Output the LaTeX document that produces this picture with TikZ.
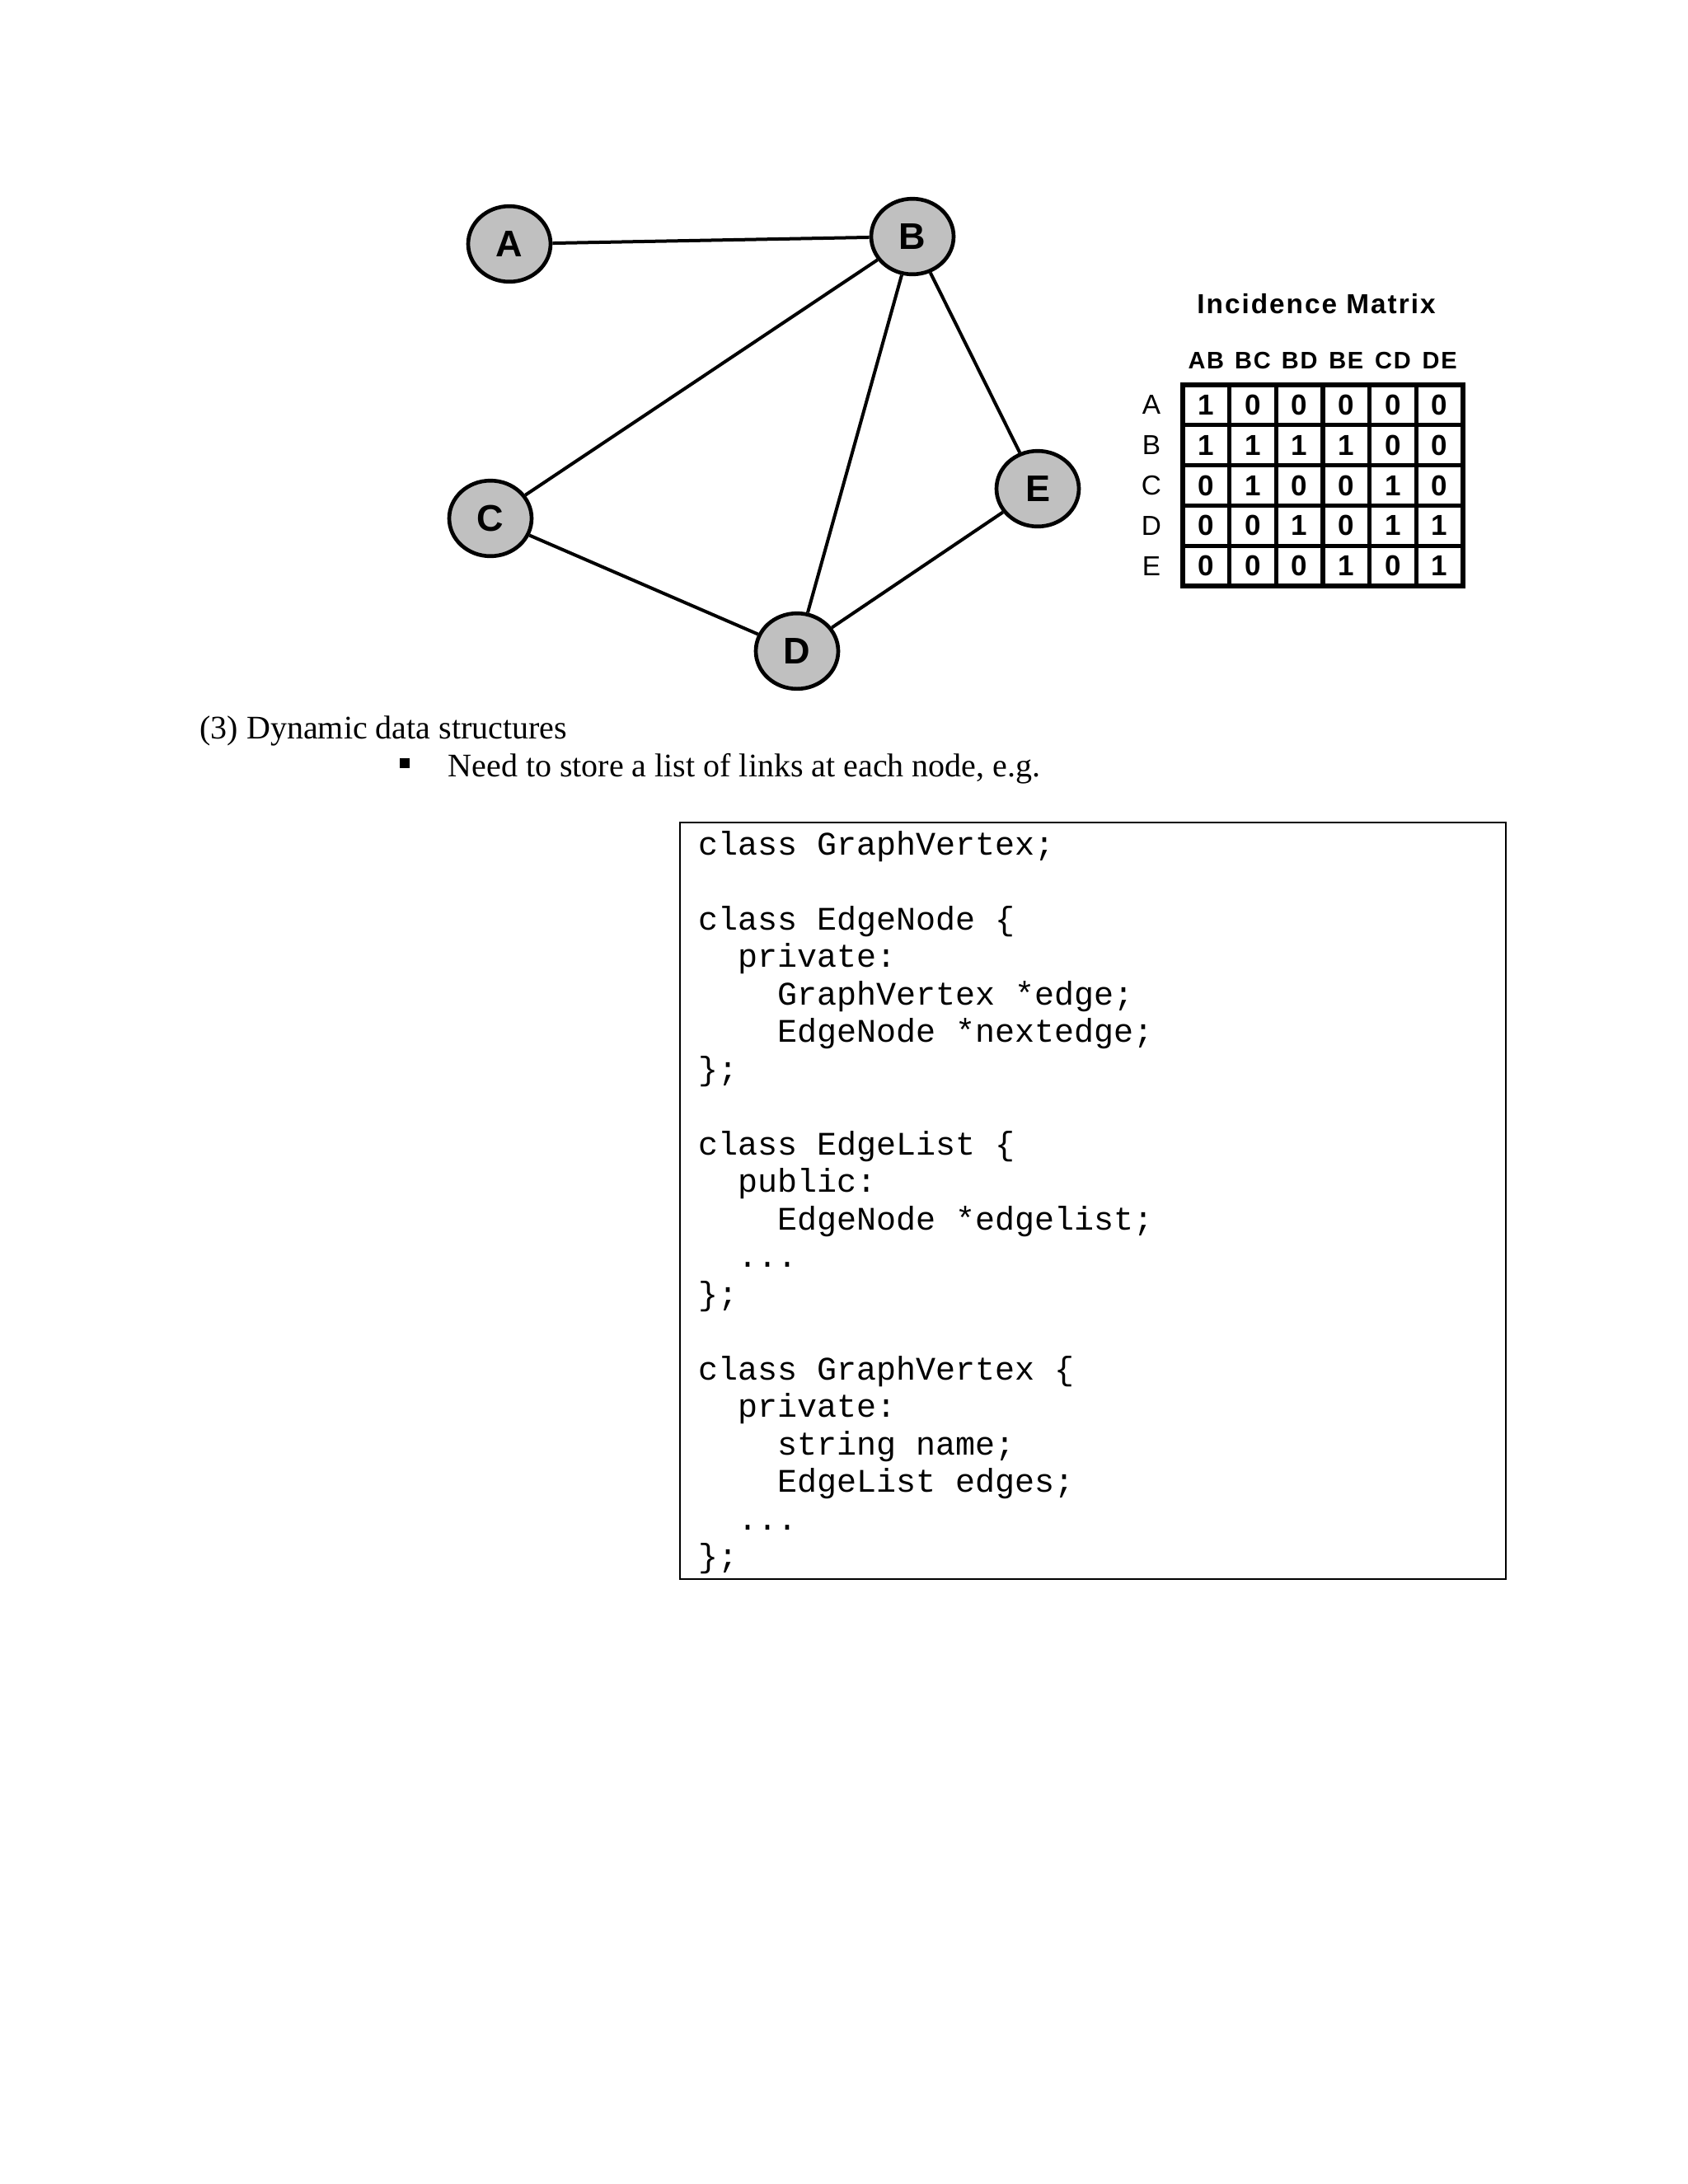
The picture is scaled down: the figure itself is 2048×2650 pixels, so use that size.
\documentclass[tikz,border=0pt]{standalone}
\usepackage{fontspec}
\setmainfont{Liberation Serif}
\setsansfont{Liberation Sans}
\setmonofont{Liberation Mono}
\newfontfamily\matfont[LetterSpace=6]{Liberation Sans}
\usetikzlibrary{shapes.geometric}
\definecolor{vgray}{RGB}{192,192,192}
\begin{document}
\begin{tikzpicture}[x=0.3pt,y=-0.3pt,
  vertex/.style={ellipse, draw=black, line width=1.4pt, fill=vgray,
    minimum width=30pt, minimum height=27.5pt, inner sep=0pt,
    font=\sffamily\bfseries\fontsize{13.5}{14}\selectfont},
  edge/.style={line width=1.2pt},
  gridline/.style={line width=1.6pt},
  cell/.style={inner sep=0pt, font=\matfont\bfseries\fontsize{10.5}{11}\selectfont},
  colhead/.style={inner sep=0pt, anchor=base, font=\matfont\bfseries\fontsize{8.7}{9}\selectfont},
  rowhead/.style={inner sep=0pt, font=\matfont\fontsize{10}{11}\selectfont},
  body/.style={inner sep=0pt, anchor=base west, font=\fontsize{12}{13.7}\selectfont},
  code/.style={inner sep=0pt, anchor=base west, font=\ttfamily\fontsize{12}{13.65}\selectfont}]
\useasboundingbox (0,0) rectangle (2048,2650);

% graph
\node[vertex] (A) at (618,296) {A};
\node[vertex] (B) at (1107,287) {B};
\node[vertex] (C) at (595,629) {C};
\node[vertex] (E) at (1259,593) {E};
\node[vertex] (D) at (967,790) {D};
\draw[edge] (A) -- (B);
\draw[edge] (B) -- (C);
\draw[edge] (B) -- (D);
\draw[edge] (B) -- (E);
\draw[edge] (C) -- (D);
\draw[edge] (D) -- (E);

% incidence matrix
\node[inner sep=0pt, anchor=base, font=\matfont\bfseries\fontsize{10}{11}\selectfont] (title) at (1597,380) {Incidence Matrix};
\foreach \h [count=\c from 0] in {AB,BC,BD,BE,CD,DE}
  \node[colhead] (h\c) at ({1435+56.67*(\c+0.5)},447) {\h};
\foreach \l [count=\r from 0] in {A,B,C,D,E}
  \node[rowhead] (r\r) at (1397,{467+48.8*(\r+0.5)}) {\l};
\foreach \r/\row in {0/{1,0,0,0,0,0},1/{1,1,1,1,0,0},2/{0,1,0,0,1,0},3/{0,0,1,0,1,1},4/{0,0,0,1,0,1}}
  \foreach \v [count=\c from 0] in \row
    \node[cell] (m\r\c) at ({1435+56.67*(\c+0.5)},{467+48.8*(\r+0.5)}) {\v};
\foreach \c in {0,...,6}
  \draw[gridline] ({1435+56.67*\c},467) -- ({1435+56.67*\c},711);
\foreach \r in {0,...,5}
  \draw[gridline] (1435,{467+48.8*\r}) -- (1775,{467+48.8*\r});
\draw[line width=1.8pt] (1435,467) rectangle (1775,711);

% text
\node[body] (t1) at (242,896) {(3) Dynamic data structures};
\node[fill=black, inner sep=0pt, minimum size=3.6pt] (bul) at (491,926) {};
\node[body] (t2) at (543,942) {Need to store a list of links at each node, e.g.};

% code box
\draw[line width=0.6pt] (825,998) rectangle (1827,1916);
\node[code] (c0) at (847,1037) {class GraphVertex;};
\node[code] (c2) at (847,{1037+2*45.5}) {class EdgeNode \{};
\node[code] (c3) at (895,{1037+3*45.5}) {private:};
\node[code] (c4) at (943,{1037+4*45.5}) {GraphVertex *edge;};
\node[code] (c5) at (943,{1037+5*45.5}) {EdgeNode *nextedge;};
\node[code] (c6) at (847,{1037+6*45.5}) {\};};
\node[code] (c8) at (847,{1037+8*45.5}) {class EdgeList \{};
\node[code] (c9) at (895,{1037+9*45.5}) {public:};
\node[code] (c10) at (943,{1037+10*45.5}) {EdgeNode *edgelist;};
\node[code] (c11) at (895,{1037+11*45.5}) {...};
\node[code] (c12) at (847,{1037+12*45.5}) {\};};
\node[code] (c14) at (847,{1037+14*45.5}) {class GraphVertex \{};
\node[code] (c15) at (895,{1037+15*45.5}) {private:};
\node[code] (c16) at (943,{1037+16*45.5}) {string name;};
\node[code] (c17) at (943,{1037+17*45.5}) {EdgeList edges;};
\node[code] (c18) at (895,{1037+18*45.5}) {...};
\node[code] (c19) at (847,{1037+19*45.5}) {\};};
\end{tikzpicture}
\end{document}
